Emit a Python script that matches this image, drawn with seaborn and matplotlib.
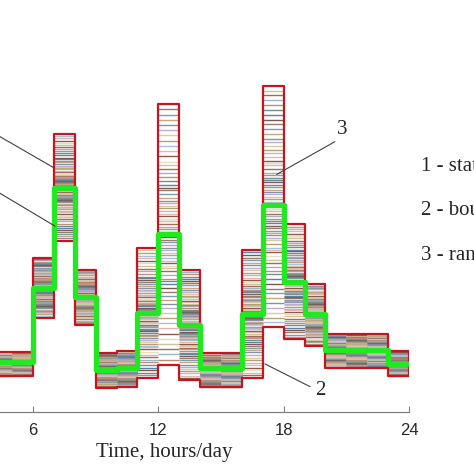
import numpy as np
import pandas as pd
import matplotlib
matplotlib.use("Agg")
import matplotlib.pyplot as plt
import seaborn as sns

# ---- data ----
hours = list(range(24))
upper = [18.3, 18.3, 18.3, 18.3, 18.3, 18.3, 46.7, 84.3, 43.1, 17.9, 18.6, 49.8,
         93.4, 43.1, 17.8, 17.8, 49.2, 99.0, 56.9, 38.7, 23.7, 23.7, 23.7, 18.5]
lower = [10.9, 10.9, 10.9, 10.9, 10.9, 10.9, 28.5, 52.0, 26.4, 7.3, 7.6, 10.3,
         14.3, 9.7, 7.5, 7.5, 10.3, 25.7, 22.1, 20.0, 13.4, 13.4, 13.4, 10.9]
boundary = [15.3, 15.3, 15.3, 15.3, 15.3, 15.3, 37.6, 68.1, 34.9, 12.7, 13.4, 30.0,
            54.0, 26.4, 13.3, 13.3, 29.7, 62.8, 39.5, 29.7, 18.8, 18.8, 18.8, 14.6]

# relative positions of the random realisations inside each band
levels = [0.02, 0.04, 0.06, 0.08, 0.10, 0.12, 0.14, 0.16, 0.18, 0.20, 0.22, 0.235,
          0.25, 0.265, 0.28, 0.295, 0.31, 0.32, 0.33, 0.345, 0.36, 0.37, 0.38, 0.39,
          0.40, 0.41, 0.42, 0.43, 0.44, 0.45, 0.46, 0.47, 0.48, 0.49, 0.50, 0.51,
          0.52, 0.53, 0.54, 0.55, 0.56, 0.57, 0.58, 0.59, 0.60, 0.61, 0.62, 0.63,
          0.64, 0.655, 0.67, 0.68, 0.69, 0.705, 0.72, 0.735, 0.75, 0.765, 0.78, 0.80,
          0.82, 0.84, 0.86, 0.88, 0.90, 0.92, 0.94, 0.96, 0.98]
stripe_colors = ["#c9a77c", "#8c5a4b", "#5f7fa3", "#d9c9a8", "#a46a5a", "#7f9bb8",
                 "#e3b7b0", "#6f8f8a", "#b8b0cf", "#cfc19a", "#9a7b6a", "#a9c0da",
                 "#bd8f7a", "#8a8fa8", "#e6dcc4", "#7a5a50", "#b5a06f", "#9fb3c6"]

xticks = [6, 12, 18, 24]
legend_lines = ["1 - stationary", "2 - boundary", "3 - random"]

# ---- style ----
sns.set_theme(style="white")
plt.rcParams["font.family"] = ["Liberation Serif", "DejaVu Serif"]

fig = plt.figure(figsize=(4.74, 4.74), dpi=100)
# axes partly outside the figure (reference is cropped on the left)
ax = fig.add_axes([-92.3 / 474, 62 / 474, 501.3 / 474, 412 / 474])

# stripes (realisations)
nc = len(stripe_colors)
for h in hours:
    lo, hi = lower[h], upper[h]
    ys = [lo + f * (hi - lo) for f in levels]
    cols = [stripe_colors[(k * 5 + h * 7) % nc] for k in range(len(levels))]
    ax.hlines(ys, h, h + 1, colors=cols, linewidth=1.0, zorder=1)

# step lines through seaborn
x_step = hours + [24]
df = pd.DataFrame({
    "t": x_step,
    "upper": upper + [upper[-1]],
    "lower": lower + [lower[-1]],
    "boundary": boundary + [boundary[-1]],
})
red = "#c8141e"
sns.lineplot(data=df, x="t", y="upper", ax=ax, drawstyle="steps-post",
             color=red, linewidth=1.6, zorder=3)
sns.lineplot(data=df, x="t", y="lower", ax=ax, drawstyle="steps-post",
             color=red, linewidth=1.6, zorder=3)
ax.vlines([0, 24], [lower[0], lower[-1]], [upper[0], upper[-1]], colors=red,
          linewidth=1.6, zorder=3)
sns.lineplot(data=df, x="t", y="boundary", ax=ax, drawstyle="steps-post",
             color="#22e822", linewidth=3.8, zorder=4)

# leader lines and labels
lc = "#404040"
ax.plot([2.98, 6.97], [88.8, 74.2], color=lc, lw=0.8, clip_on=False, zorder=5)
ax.plot([2.98, 7.05], [71.8, 56.4], color=lc, lw=0.8, clip_on=False, zorder=5)
ax.plot([20.45, 17.67], [82.0, 72.1], color=lc, lw=0.8, zorder=5)
ax.text(20.78, 85.6, "3", fontsize=15, ha="center", va="center")
ax.plot([19.26, 17.10], [7.7, 14.6], color=lc, lw=0.8, zorder=5)
ax.text(19.74, 6.5, "2", fontsize=15, ha="center", va="center")

# axes
ax.set_xlim(0, 24)
ax.set_ylim(0, 125)
ax.set_xticks(xticks)
ax.set_xticklabels([str(v) for v in xticks], family=["Liberation Sans"], fontsize=12)
ax.set_yticks([])
ax.tick_params(axis="x", direction="in", length=4.5, width=0.8, color="#808080",
               pad=8, bottom=True)
for s in ["top", "right", "left"]:
    ax.spines[s].set_visible(False)
ax.spines["bottom"].set_color("#808080")
ax.spines["bottom"].set_linewidth(0.9)
ax.set_xlabel("")
ax.set_ylabel("")
fig.text(164 / 474, 1 - 453 / 474, "Time, hours/day", fontsize=15,
         ha="center", va="center")

for i, t in enumerate(legend_lines):
    fig.text(421 / 474, 1 - (167 + 44 * i) / 474, t, fontsize=15,
             ha="left", va="center")

fig.savefig("out.png", dpi=100)
